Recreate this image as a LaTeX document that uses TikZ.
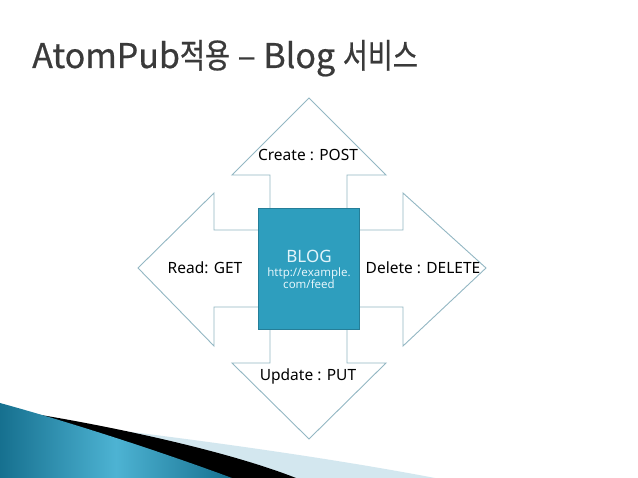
\documentclass[tikz,border=0pt]{standalone}
\usepackage{fontspec}
\setmainfont{Noto Sans}
\newfontfamily\krfont[FakeBold=0.6]{Noto Sans CJK KR}
\usetikzlibrary{shapes.geometric}
\definecolor{outl}{HTML}{93B7C3}
\definecolor{boxfill}{HTML}{2E9EBE}
\definecolor{boxtxt}{HTML}{E2F4FA}
\definecolor{titlec}{HTML}{3A3A3A}
\definecolor{swdark}{HTML}{16708F}
\definecolor{swlight}{HTML}{4DB3D3}
\definecolor{swband}{HTML}{D3E7EF}
\tikzset{
  lbl/.style={font=\fontsize{15.5}{17}\selectfont, text=black, inner sep=0pt},
  blog/.style={draw=boxfill!80!black, line width=0.4pt, fill=boxfill, minimum width=101pt, minimum height=121pt, inner sep=0pt},
  quad/.style={draw=outl, line width=0.9pt, fill=white, line join=miter}
}
\begin{document}
\begin{tikzpicture}[x=1pt,y=-1pt]
\useasboundingbox (0,0) rectangle (638,478);
\fill[white] (0,0) rectangle (638,478);
% swoosh
\fill[swband] (90,427) .. controls (200,440) and (330,458) .. (435,478) -- (250,478) -- cycle;
\fill[black] (35,414) .. controls (120,428) and (230,452) .. (296,478) -- (200,478) -- cycle;
\shade[left color=swdark, right color=swdark, middle color=swlight] (0,403) .. controls (80,425) and (170,455) .. (232,478) -- (0,478) -- cycle;
% title
\node[anchor=base west, inner sep=0pt, text=titlec, font=\krfont\fontsize{34}{36}\selectfont] (title) at (32,68) {AtomPub\scalebox{0.8}[1]{적용} – Blog \scalebox{0.8}[1]{서비스}};
% quad arrow
\draw[quad] (309,98) -- (386,175) -- (347,175) -- (347,230) -- (403,230) -- (403,193) -- (486,268) -- (403,346) -- (403,307) -- (347,307) -- (347,363) -- (386,363) -- (309,439) -- (232,363) -- (270,363) -- (270,307) -- (214,307) -- (214,346) -- (138,268) -- (214,193) -- (214,230) -- (270,230) -- (270,175) -- (232,175) -- cycle;
\node[blog] (box) at (308.5,268.5) {};
\node[inner sep=0pt, text=boxtxt, font=\fontsize{17}{19}\selectfont] (blogt) at (309,256) {BLOG};
\node[inner sep=0pt, text=boxtxt, font=\fontsize{11.5}{12}\selectfont, align=center] (url) at (309,278) {http://example.\\com/feed};
\node[lbl] (create) at (308,155) {Create : POST};
\node[lbl] (read) at (205,268) {Read: GET};
\node[lbl] (delete) at (423,268) {Delete : DELETE};
\node[lbl] (update) at (308,376) {Update : PUT};
\end{tikzpicture}
\end{document}
